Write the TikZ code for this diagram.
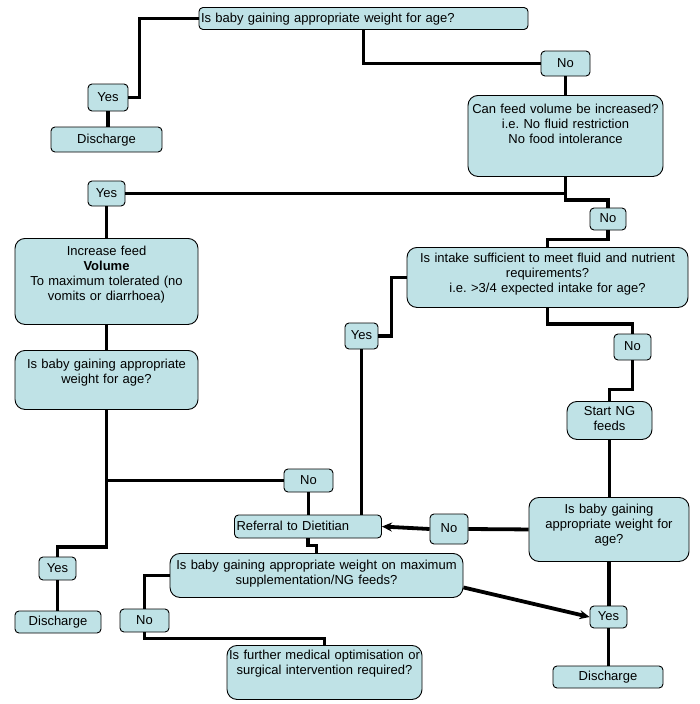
\documentclass[tikz,border=0pt]{standalone}
\usepackage{fontspec}
\setmainfont{Liberation Sans}
\usetikzlibrary{positioning, arrows.meta}
\definecolor{boxfill}{RGB}{191,226,230}
\frenchspacing

\begin{document}
\begin{tikzpicture}[x=1pt, y=-1pt,
        box/.style={draw, line width=0.9pt, fill=boxfill, rounded corners=4pt,
            font=\fontsize{13}{14.8}\selectfont, inner sep=0pt,
            text height=9.5pt, text depth=2.5pt},
        big/.style={box, rounded corners=10pt, align=center, anchor=north,
            inner xsep=1pt, inner ysep=4pt},
        link/.style={line width=3.8pt},
        tip/.style={-{Stealth[length=10pt, width=9pt]}}]
        \useasboundingbox (0,0) rectangle (700,704);
        % top of the chart
        \node[box, inner xsep=2pt, text width=325pt, align=left, minimum height=22pt] (q1) at (363.5,18.5)
            {Is baby gaining appropriate weight for age?};
        \node[box, minimum width=40pt, minimum height=27pt] (yesA) at (108,97.5) {Yes};
        \node[box, minimum width=111pt, minimum height=25pt] (disA) at (106.5,139.5) {Discharge};
        \node[box, minimum width=49pt, minimum height=25pt] (noA) at (565.5,63.5) {No};
        \node[big, text width=193pt, text height=14pt, text depth=59pt] (q2) at (565.5,95)
            {Can feed volume be increased?\\ i.e. No fluid restriction\\ No food intolerance};
        \node[box, minimum width=37pt, minimum height=25pt] (yesB) at (106.5,193.5) {Yes};
        \node[box, minimum width=36pt, minimum height=22pt] (noB) at (608,219) {No};
        % left column
        \node[big, text width=181pt, text height=13.5pt, text depth=64.5pt] (incr) at (106.5,238)
            {Increase feed\\ \textbf{Volume}\\ To maximum tolerated (no\\ vomits or diarrhoea)};
        \node[big, text width=181pt, text height=14.5pt, text depth=36.5pt] (q3L) at (106.5,350)
            {Is baby gaining appropriate\\ weight for age?};
        \node[box, minimum width=37pt, minimum height=23pt] (yesD) at (57.5,568.5) {Yes};
        \node[box, minimum width=86pt, minimum height=22pt] (disB) at (58,622) {Discharge};
        % right column
        \node[big, text width=279pt, text height=11.5pt, text depth=40.5pt] (qint) at (547.5,247)
            {Is intake sufficient to meet fluid and nutrient\\ requirements?\\ i.e. >3/4 expected intake for age?};
        \node[box, minimum width=33pt, minimum height=26pt] (yesC) at (361.5,336) {Yes};
        \node[box, minimum width=37pt, minimum height=26pt] (noC) at (632.5,347) {No};
        \node[big, text width=83pt, text height=10pt, text depth=20pt] (ng) at (609.5,401)
            {Start NG\\ feeds};
        \node[big, text width=158pt, text height=12pt, text depth=44pt] (q4R) at (609,497)
            {Is baby gaining\\ appropriate weight for\\ age?};
        \node[box, minimum width=38pt, minimum height=30pt] (noD) at (449,529) {No};
        \node[box, minimum width=37pt, minimum height=22pt] (yesE) at (608.5,617) {Yes};
        \node[box, minimum width=110pt, minimum height=22pt] (disC) at (608,677) {Discharge};
        % dietitian part
        \node[box, minimum width=49pt, minimum height=23pt] (noE) at (308.5,480.5) {No};
        \node[box, inner xsep=2pt, text width=143pt, align=left, minimum height=23pt] (ref) at (308,526.5)
            {Referral to Dietitian};
        \node[big, text width=291pt, text height=12.5pt, text depth=23.5pt] (qsup) at (316.5,553)
            {Is baby gaining appropriate weight on maximum\\ supplementation/NG feeds?};
        \node[box, minimum width=49pt, minimum height=23pt] (noF) at (144.5,620.5) {No};
        \node[big, text width=193pt, text height=10pt, text depth=36pt] (qfur) at (324.5,645)
            {Is further medical optimisation or\\ surgical intervention required?};

        \begin{scope}[link]
            \draw (q1.west) -- ++(-59,0) |- (yesA.east);
            \draw (yesA.south) -- (yesA.south |- disA.north);
            \draw (q1.south) |- (noA.west);
            \draw (noA.south) -- (q2.north);
            \draw (q2.south) |- (yesB.east);
            \draw (q2.south) -- ++(0,23) -| (noB.north);
            \draw (yesB.south) -- (incr.north);
            \draw (incr.south) -- (q3L.north);
            \draw (noB.south) -- ++(0,9) -| (qint.north);
            \draw (qint.west) -- ++(-15,0) |- (yesC.east);
            \draw (yesC.south) -- (yesC.south |- ref.north);
            \draw (qint.south) -- ++(0,16) -| (noC.north);
            \draw (noC.south) -- ++(0,29) -| (ng.north);
            \draw (ng.south) -- (ng.south |- q4R.north);
            \draw (q4R.west) -- (noD.east);
            \draw[tip] (noD.west) -- (ref.east);
            \draw (q3L.south) |- (noE.west);
            \draw (q3L.south) -- ++(0,137) -| (yesD.north);
            \draw (noE.south) -- (noE.south |- ref.north);
            \draw (ref.south) -- ++(0,7) -| (qsup.north);
            \draw (qsup.west) -| (noF.north);
            \draw (yesD.south) -- (yesD.south |- disB.north);
            \draw (noF.south) -- ++(0,6) -| (qfur.north);
            \draw[tip] ([yshift=-12pt]qsup.east) -- (yesE.west);
            \draw (q4R.south) -- (q4R.south |- yesE.north);
            \draw (yesE.south) -- (yesE.south |- disC.north);
        \end{scope}
\end{tikzpicture}
\end{document}
